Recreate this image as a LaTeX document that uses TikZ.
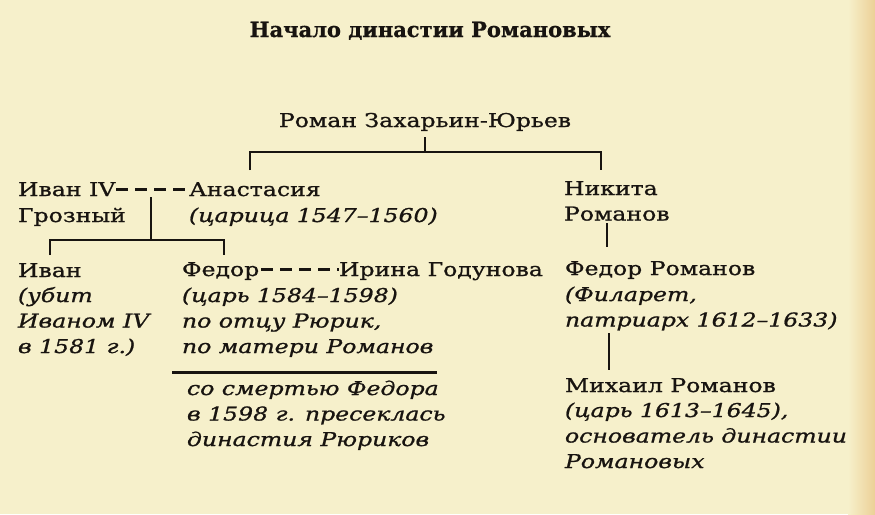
\documentclass[tikz,border=0pt]{standalone}
\usepackage{fontspec}
\setmainfont{DejaVu Serif}[FakeStretch=1.24,FakeBold=1.0]
\newfontfamily\titlefont{DejaVu Serif}[FakeBold=0.8]
\usetikzlibrary{calc}
\definecolor{paper}{RGB}{246,240,203}
\definecolor{paperedge}{RGB}{236,208,150}
\definecolor{ink}{RGB}{24,20,16}
\begin{document}
\begin{tikzpicture}[x=1pt,y=-1pt,
  every node/.style={inner sep=0pt,outer sep=0pt,text=ink,anchor=base west,align=left},
  up/.style={font=\fontsize{19}{25.5}\selectfont},
  it/.style={font=\fontsize{19}{25.5}\selectfont\itshape},
  ttl/.style={font=\titlefont\fontsize{21}{24}\selectfont\bfseries,anchor=base},
  link/.style={draw=ink,line width=2.3pt},
  wed/.style={draw=ink,line width=2.6pt,dash pattern=on 11.5pt off 7.5pt},
  rule/.style={draw=ink,line width=3pt}]
\useasboundingbox (0,0) rectangle (875,514);
\fill[paper] (0,0) rectangle (875,514);
\shade[left color=paper,right color=paperedge] (848,0) rectangle (875,514);
% title
\node[ttl] (title) at (430,37) {Начало династии Романовых};
% generation 1
\node[up,anchor=base] (r) at (425,127) {Роман Захарьин-Юрьев};
% generation 2 (multi-line nodes are placed by their last baseline)
\node[up] (ivan) at (18,196) {Иван IV};
\node[up] (ivanb) at (18,222) {Грозный};
\node[up] (anast) at (189,196) {Анастасия};
\node[it] (anastb) at (189,222) {(царица 1547–1560)};
\node[up] (nik) at (564,220.5) {Никита\\Романов};
% generation 3
\node[up] (ivanc) at (18,277) {Иван};
\node[it] (ivancb) at (18,353) {(убит\\Иваном IV\\в 1581 г.)};
\node[up] (fedor) at (182,276) {Федор};
\node[up] (irina) at (339,276) {Ирина Годунова};
\node[it] (fedorb) at (182,353) {(царь 1584–1598)\\по отцу Рюрик,\\по матери Романов};
\node[up] (fr) at (565,275) {Федор Романов};
\node[it] (frb) at (565,326.5) {(Филарет,\\патриарх 1612–1633)};
% generation 4
\node[it] (endn) at (187,446) {со смертью Федора\\в 1598 г. пресеклась\\династия Рюриков};
\node[up] (mikh) at (565,392) {Михаил Романов};
\node[it] (mikhb) at (565,468) {(царь 1613–1645),\\основатель династии\\Романовых};
% connector points
\coordinate (rt) at (425,137);
\coordinate (rj) at (425,152);
\coordinate (at) at (250,170);
\coordinate (nt) at (601,170);
\coordinate (mw) at (151,197);
\coordinate (cj) at (151,240);
\coordinate (ct1) at (50,255);
\coordinate (ct2) at (224,255);
\coordinate (nb) at (607,223);
\coordinate (ft) at (607,247);
\coordinate (fb) at (609,333);
\coordinate (mt) at (609,370);
\coordinate (ru1) at (172,372);
\coordinate (ru2) at (437,372);
% connectors
\draw[link] (rt) -- (rj);
\draw[link] (at) |- (rj) -| (nt);
\draw[wed] ([xshift=1pt,yshift=6.5pt]ivan.base east) -- ([yshift=6.5pt]anast.base west);
\draw[link] (mw) -- (cj);
\draw[link] (ct1) |- (cj) -| (ct2);
\draw[wed] ([xshift=2pt,yshift=6.5pt]fedor.base east) -- ([yshift=6.5pt]irina.base west);
\draw[link] (nb) -- (ft);
\draw[link] (fb) -- (mt);
\draw[rule] (ru1) -- (ru2);
\end{tikzpicture}
\end{document}
